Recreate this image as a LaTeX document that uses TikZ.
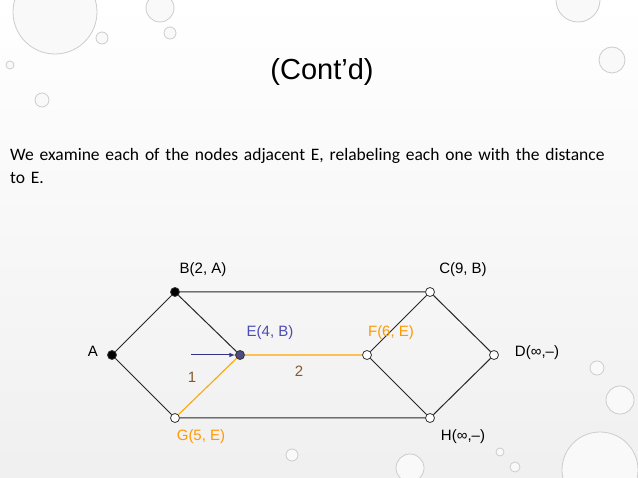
\documentclass[tikz,border=0pt]{standalone}
\usepackage{fontspec}
\setmainfont{Liberation Sans}
\newfontfamily\bodyfont{Carlito}
\begin{document}
\begin{tikzpicture}[x=1pt,y=-1pt,
  vtx/.style={circle,draw=black!80,line width=0.8pt,inner sep=0pt,minimum size=9pt,fill=white},
  blk/.style={vtx,fill=black},
  edge/.style={draw=black!85,line width=1pt},
  oedge/.style={draw=orange!70!yellow,line width=1.1pt},
  lbl/.style={font=\fontsize{15}{17}\selectfont,inner sep=0pt},
  drop/.style={draw=gray!40,line width=0.8pt,fill=white!95!gray}]
\shade[top color=white,bottom color=gray!12] (0,0) rectangle (638,478);
\useasboundingbox (0,0) rectangle (638,478);
% droplets
\draw[drop] (55,12) circle (42);
\draw[drop] (160,8) circle (14);
\draw[drop] (102,38) circle (6);
\draw[drop] (42,100) circle (7);
\draw[drop] (170,33) circle (6);
\draw[drop] (10,65) circle (4);
\draw[drop] (612,60) circle (13);
\draw[drop] (578,0) circle (22);
\draw[drop] (597,368) circle (7);
\draw[drop] (620,400) circle (14);
\draw[drop] (600,470) circle (38);
\draw[drop] (410,468) circle (14);
\draw[drop] (292,455) circle (6);
\draw[drop] (515,467) circle (5);
\draw[drop] (500,452) circle (4);
% text
\node[font=\fontsize{29}{32}\selectfont] (title) at (322,72) {(Cont’d)};
\node[font=\bodyfont\fontsize{17.5}{23}\selectfont,anchor=north west,align=left,text width=605pt,inner sep=0pt] (body) at (10,148)
 {We examine each of the nodes adjacent E, relabeling each one with the distance to E.};
% vertices
\node[blk] (A) at (112,355) {};
\node[blk] (B) at (175,292) {};
\node[vtx,fill=blue!30!black!70] (E) at (240,355) {};
\node[vtx] (G) at (175,418) {};
\node[vtx] (F) at (367,355) {};
\node[vtx] (C) at (430,292) {};
\node[vtx] (D) at (494,355) {};
\node[vtx] (H) at (430,418) {};
\draw[edge] (A)--(B) (A)--(G) (B)--(E) (B)--(C) (G)--(H) (F)--(C) (F)--(H) (C)--(D) (H)--(D);
\draw[oedge] (G)--(E) (E)--(F);
\coordinate (arrS) at (191,355);
\draw[-latex,line width=1pt,draw=blue!40!black!80] (arrS)--(E);
% labels
\node[lbl] (lA) at (93,351) {A};
\node[lbl] (lB) at (203,270) {B(2, A)};
\node[lbl] (lC) at (463,270) {C(9, B)};
\node[lbl,text=blue!40!gray] (lE) at (270,333) {E(4, B)};
\node[lbl,text=orange!80!yellow] (lF) at (391,333) {F(6, E)};
\node[lbl] (lD) at (537,353) {D(∞,–)};
\node[lbl,text=orange!80!yellow] (lG) at (201,437) {G(5, E)};
\node[lbl] (lH) at (463,437) {H(∞,–)};
\node[lbl,text=brown!70!black] (l1) at (192,377) {1};
\node[lbl,text=brown!70!black] (l2) at (299,371) {2};
\end{tikzpicture}
\end{document}
